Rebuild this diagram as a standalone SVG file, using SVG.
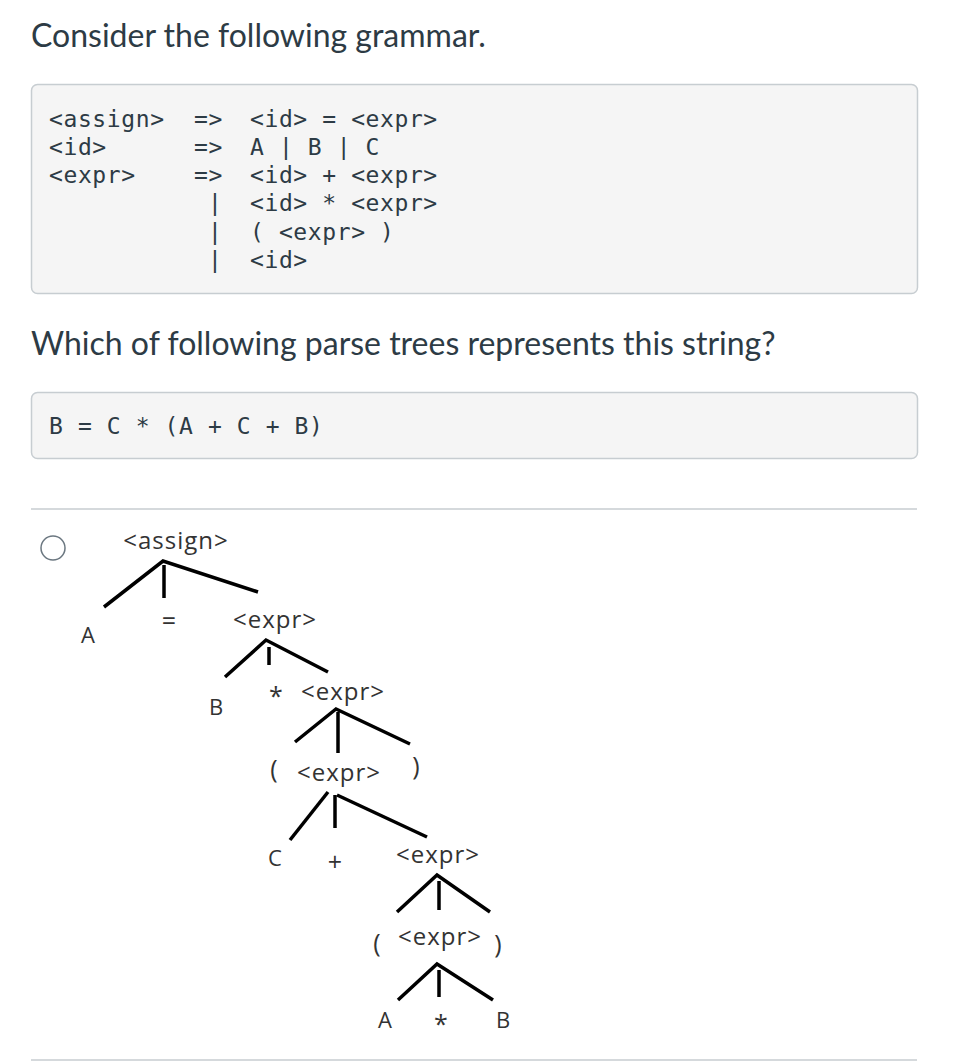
<svg xmlns="http://www.w3.org/2000/svg" width="958" height="1062" viewBox="0 0 958 1062">
<style>
.h{font-family:Lato,"Open Sans",sans-serif;font-size:32px;fill:#2d3b45}
.m{font-family:"DejaVu Sans Mono",monospace;font-size:23px;letter-spacing:0.6px;fill:#2d3b45}
.box{fill:#f5f5f5;stroke:#c7cdd1;stroke-width:1.5}
.hr{stroke:#c7cdd1;stroke-width:1.5}
.t{font-family:"Open Sans",sans-serif;font-size:24px;letter-spacing:1px;fill:#333;text-anchor:middle}
.s{font-family:"Open Sans",sans-serif;font-size:22px;fill:#333;text-anchor:middle}
.p{font-family:"Open Sans",sans-serif;font-size:25px;fill:#333;text-anchor:middle}
.e{stroke:#000;stroke-width:3.5;stroke-linecap:butt;fill:none}
</style>
<rect width="958" height="1062" fill="#fff"/>
<text class="h" x="31" y="47">Consider the following grammar.</text>
<g id="grammar">
<rect class="box" x="31.5" y="84.5" width="886" height="209" rx="6"/>
<g class="m" xml:space="preserve">
<text x="49" y="127">&lt;assign&gt;</text><text x="194" y="127">=&gt;</text><text x="250" y="127">&lt;id&gt; = &lt;expr&gt;</text>
<text x="49" y="155">&lt;id&gt;</text><text x="194" y="155">=&gt;</text><text x="250" y="155">A | B | C</text>
<text x="49" y="183">&lt;expr&gt;</text><text x="194" y="183">=&gt;</text><text x="250" y="183">&lt;id&gt; + &lt;expr&gt;</text>
<text x="208" y="211">|</text><text x="250" y="211">&lt;id&gt; * &lt;expr&gt;</text>
<text x="208" y="240">|</text><text x="250" y="240">( &lt;expr&gt; )</text>
<text x="208" y="268">|</text><text x="250" y="268">&lt;id&gt;</text>
</g>
</g>
<text class="h" x="31" y="355">Which of following parse trees represents this string?</text>
<g id="string">
<rect class="box" x="31.5" y="392.5" width="886" height="66" rx="6"/>
<text class="m" x="49" y="434" xml:space="preserve">B = C * (A + C + B)</text>
</g>
<line class="hr" x1="31" y1="509" x2="917" y2="509"/>
<circle id="radio" cx="53" cy="548" r="12" fill="#fff" stroke="#6b7780" stroke-width="1.5"/>
<g id="tree-nodes">
<g id="n-assign"><text class="t" x="176" y="549">&lt;assign&gt;</text></g>
<g id="n-A1"><text class="s" x="88" y="643">A</text></g>
<g id="n-eq"><text class="p" x="169" y="630">=</text></g>
<g id="n-expr1"><text class="t" x="275" y="628">&lt;expr&gt;</text></g>
<g id="n-B1"><text class="s" x="216" y="715">B</text></g>
<g id="n-star1"><text class="p" x="276" y="705">*</text></g>
<g id="n-expr2"><text class="t" x="343" y="700">&lt;expr&gt;</text></g>
<g id="n-lp1"><text class="p" x="274" y="778">(</text></g>
<g id="n-expr3"><text class="t" x="339" y="781">&lt;expr&gt;</text></g>
<g id="n-rp1"><text class="p" x="416" y="775">)</text></g>
<g id="n-C"><text class="s" x="275" y="866">C</text></g>
<g id="n-plus"><text class="p" x="335" y="871">+</text></g>
<g id="n-expr4"><text class="t" x="438" y="863">&lt;expr&gt;</text></g>
<g id="n-lp2"><text class="p" x="377" y="952">(</text></g>
<g id="n-expr5"><text class="t" x="440" y="945">&lt;expr&gt;</text></g>
<g id="n-rp2"><text class="p" x="498" y="953">)</text></g>
<g id="n-A2"><text class="s" x="385" y="1028">A</text></g>
<g id="n-star2"><text class="p" x="441" y="1033">*</text></g>
<g id="n-B2"><text class="s" x="503" y="1028">B</text></g>
</g>
<g id="connectors" class="e">
<path d="M104 607 L163 561 L258 592"/>
<path d="M164 565 V598"/>
<path d="M225 677 L266 640 L328 672"/>
<path d="M269 647 V665"/>
<path d="M295 742 L336 709 L410 744"/>
<path d="M338 712 V753"/>
<path d="M290 840 L328 792"/>
<path d="M335 795 V828"/>
<path d="M337 795 L427 837"/>
<path d="M397 912 L437 875 L490 912"/>
<path d="M439 881 V910"/>
<path d="M398 1000 L437 964 L493 1000"/>
<path d="M439 970 V997"/>
</g>
<line class="hr" x1="31" y1="1060" x2="917" y2="1060"/>
</svg>
